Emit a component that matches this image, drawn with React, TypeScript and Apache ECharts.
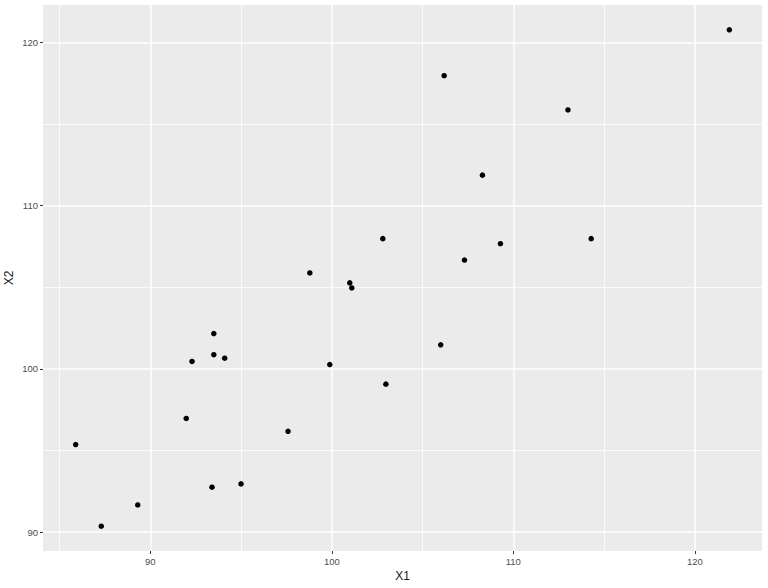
import React, { useEffect, useRef } from "react";
import * as echarts from "echarts";

const x1Values = [85.89, 87.3, 89.31, 91.98, 92.3, 93.5, 93.5, 94.1, 93.4, 95.0, 97.59, 98.79, 99.89, 100.99, 101.1, 102.81, 102.98, 106.19, 106.0, 107.31, 108.3, 109.29, 113.01, 114.29, 121.9];
const x2Values = [95.37, 90.37, 91.67, 96.97, 100.46, 102.17, 100.87, 100.66, 92.76, 92.96, 96.18, 105.88, 100.27, 105.27, 104.96, 107.98, 99.07, 117.96, 101.48, 106.67, 111.87, 107.67, 115.86, 107.98, 120.77];

const xMajorTicks = [90, 100, 110, 120];
const xMinorTicks = [85, 95, 105, 115];
const yMajorTicks = [90, 100, 110, 120];
const yMinorTicks = [95, 105, 115];

const xRange = [84.09, 123.7];
const yRange = [88.85, 122.29];

const FONT = "Liberation Sans, Arial, Helvetica, sans-serif";

export default function App() {
  const ref = useRef<HTMLDivElement>(null);
  useEffect(() => {
    if (!ref.current) return;
    const chart = echarts.init(ref.current, undefined, { renderer: "svg" });
    const points = x1Values.map((x, i) => [x, x2Values[i]]);
    const gridLines = [
      ...xMinorTicks.map((v) => ({ xAxis: v, lineStyle: { width: 0.8 } })),
      ...yMinorTicks.map((v) => ({ yAxis: v, lineStyle: { width: 0.8 } })),
      ...xMajorTicks.map((v) => ({ xAxis: v, lineStyle: { width: 1.5 } })),
      ...yMajorTicks.map((v) => ({ yAxis: v, lineStyle: { width: 1.5 } })),
    ];
    const axisCommon = {
      type: "value",
      axisLine: { show: false },
      splitLine: { show: false },
      nameMoveOverlap: false,
      nameTextStyle: { color: "#1A1A1A", fontSize: 12, fontFamily: FONT },
      axisTick: { show: true, length: 3, lineStyle: { color: "#333333", width: 1 } },
      axisLabel: { color: "#4D4D4D", fontSize: 9.5, fontFamily: FONT },
    };
    chart.setOption({
      animation: false,
      backgroundColor: "#FFFFFF",
      grid: {
        left: 43,
        right: 6,
        top: 5,
        bottom: 37,
        containLabel: false,
        outerBoundsMode: "none",
        show: true,
        backgroundColor: "#EBEBEB",
        borderWidth: 0,
      },
      xAxis: {
        ...axisCommon,
        min: xRange[0],
        max: xRange[1],
        name: "X1",
        nameLocation: "middle",
        nameGap: 19,
        axisTick: { ...axisCommon.axisTick, customValues: xMajorTicks },
        axisLabel: { ...axisCommon.axisLabel, customValues: xMajorTicks, margin: 5 },
      },
      yAxis: {
        ...axisCommon,
        min: yRange[0],
        max: yRange[1],
        name: "X2",
        nameLocation: "middle",
        nameGap: 28,
        axisTick: { ...axisCommon.axisTick, customValues: yMajorTicks },
        axisLabel: { ...axisCommon.axisLabel, customValues: yMajorTicks, margin: 5 },
      },
      series: [
        {
          type: "scatter",
          data: [],
          z: 1,
          silent: true,
          markLine: {
            silent: true,
            z: 1,
            symbol: "none",
            label: { show: false },
            lineStyle: { color: "#FFFFFF", type: "solid" },
            emphasis: { disabled: true },
            data: gridLines,
          },
        },
        {
          type: "scatter",
          z: 3,
          data: points,
          symbol: "circle",
          symbolSize: 5.5,
          itemStyle: { color: "#000000", opacity: 1 },
        },
      ],
    });
    return () => chart.dispose();
  }, []);
  return (
    <div
      ref={ref}
      style={{ position: "fixed", left: 0, top: 0, width: 768, height: 588 }}
    />
  );
}
